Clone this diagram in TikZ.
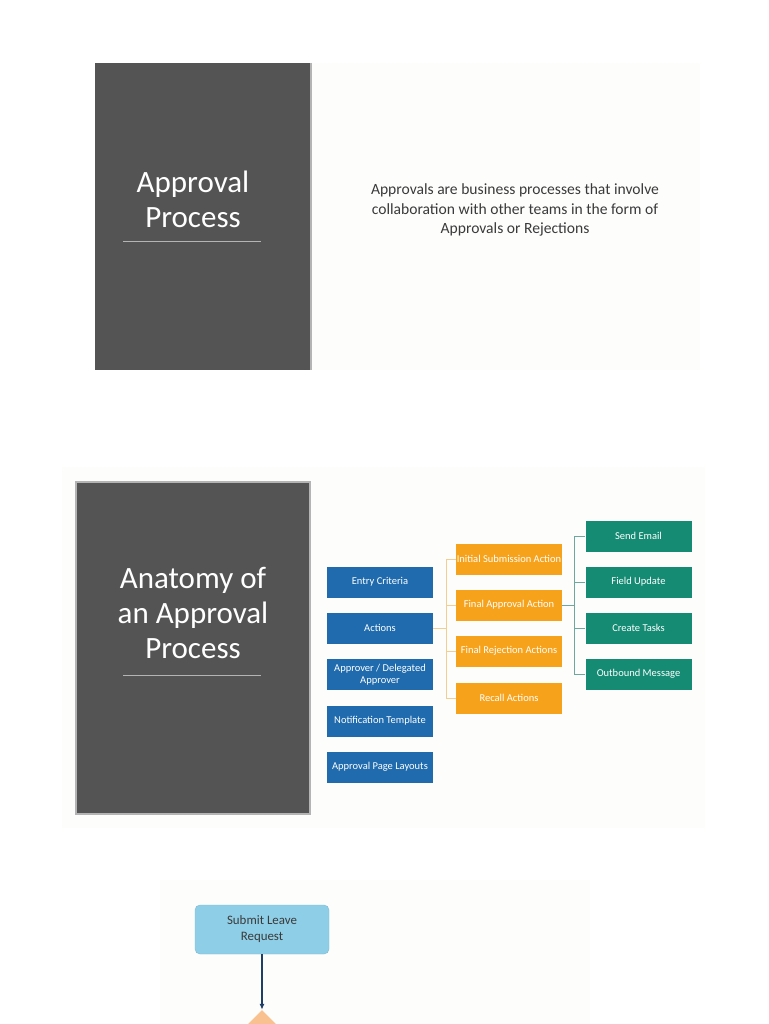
\documentclass[tikz,border=0pt]{standalone}
\usepackage{fontspec}
\setmainfont{Carlito}
\usetikzlibrary{arrows.meta,shapes.geometric}
\definecolor{slidebg}{HTML}{FDFDFC}
\definecolor{darkpanel}{HTML}{545454}
\definecolor{panelline}{HTML}{B4B4B4}
\definecolor{bodytext}{HTML}{3A3A3A}
\definecolor{boxblue}{HTML}{1F6BAE}
\definecolor{boxorange}{HTML}{F7A21B}
\definecolor{boxgreen}{HTML}{158B73}
\definecolor{linkorange}{HTML}{F2CE94}
\definecolor{linkgreen}{HTML}{6CA89B}
\definecolor{stepblue}{HTML}{8ECEE6}
\definecolor{stepline}{HTML}{7DBAD4}
\definecolor{arrownavy}{HTML}{1F3F66}
\definecolor{decorange}{HTML}{FAC190}
\begin{document}
\begin{tikzpicture}[x=1pt, y=-1pt,
  title/.style={text=white, align=center, font=\fontsize{31}{35}\selectfont},
  itembox/.style={minimum width=106pt, minimum height=31pt, inner sep=0.5pt, text=white, align=center, font=\fontsize{10.5}{12}\selectfont},
  entry/.style={itembox, fill=boxblue},
  action/.style={itembox, fill=boxorange},
  outcome/.style={itembox, fill=boxgreen},
  feed/.style={linkorange, line width=0.8pt},
  fan/.style={linkgreen, line width=0.8pt},
  stepbox/.style={rounded corners=5pt, fill=stepblue, draw=stepline, minimum width=134pt, minimum height=49pt, align=center, text=bodytext, font=\fontsize{12.9}{16}\selectfont}]
\clip (0,0) rectangle (768,1024);
\fill[white] (0,0) rectangle (768,1024);

% Slide 1: approval process
\fill[slidebg] (95,63) rectangle (700,370);
\fill[darkpanel] (95,63) rectangle (310,370);
\draw[panelline, line width=1.5pt] (311,63) -- (311,370);
\node[title] (t1) at (193,199) {Approval\\Process};
\draw[panelline, line width=1pt] (123,241) -- (261,241);
\node[align=center, text=bodytext, font=\fontsize{15.6}{19.5}\selectfont] (desc) at (515,210)
  {Approvals are business processes that involve\\collaboration with other teams in the form of\\Approvals or Rejections};

% Slide 2: anatomy
\fill[slidebg] (62,467) rectangle (705,828);
\fill[darkpanel] (75,481) rectangle (311,815);
\draw[panelline, line width=2pt] (76,482) rectangle (310,814);
\node[title] (t2) at (193,613) {Anatomy of\\an Approval\\Process};
\draw[panelline, line width=1pt] (123,675) -- (261,675);

% Entries
\node[entry] (crit) at (380,582) {Entry Criteria};
\node[entry] (act) at (380,628) {Actions};
\node[entry] (appr) at (380,674.5) {Approver / Delegated\\Approver};
\node[entry] (notif) at (380,721) {Notification Template};
\node[entry] (layout) at (380,767) {Approval Page Layouts};

% Actions
\node[action] (init) at (509,559) {Initial Submission Action};
\node[action] (finapp) at (509,605) {Final Approval Action};
\node[action] (finrej) at (509,651) {Final Rejection Actions};
\node[action] (recall) at (509,698) {Recall Actions};

% Outcomes
\node[outcome] (email) at (638.5,536) {Send Email};
\node[outcome] (field) at (638.5,582) {Field Update};
\node[outcome] (task) at (638.5,628) {Create Tasks};
\node[outcome] (msg) at (638.5,674) {Outbound Message};

% Links
\coordinate (abus) at (446,628);
\draw[feed] (act.east) -- (abus);
\draw[feed] (abus |- init.west) -- (abus |- recall.west);
\foreach \n in {init,finapp,finrej,recall}
  \draw[feed] (abus |- \n.west) -- (\n.west);
\coordinate (fbus) at (574,605);
\draw[fan] (finapp.east) -- (fbus);
\draw[fan] (fbus |- email.west) -- (fbus |- msg.west);
\foreach \n in {email,field,task,msg}
  \draw[fan] (fbus |- \n.west) -- (\n.west);

% Slide 3: leave request flow
\fill[slidebg] (160,880) rectangle (590,1024);
\node[stepbox] (submit) at (262,929.5) {Submit Leave\\Request};
\node[diamond, fill=decorange, minimum width=80pt, minimum height=80pt, inner sep=0pt] (dec) at (262,1050) {};
\draw[arrownavy, line width=1.3pt, -{Latex[length=6pt,width=5pt]}] (submit.south) -- (dec.north);
\end{tikzpicture}
\end{document}
